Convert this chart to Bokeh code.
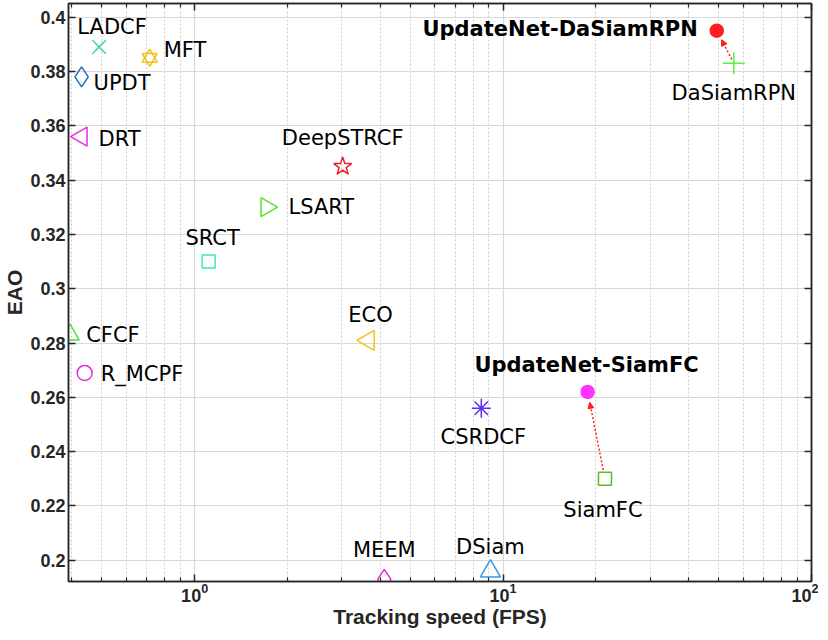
import numpy as np
from bokeh.plotting import figure
from bokeh.models import (LogAxis, LinearAxis, FixedTicker, Range1d, Arrow,
                          NormalHead, ColumnDataSource)
from bokeh.core.properties import value
from bokeh.embed import file_html
from bokeh.resources import INLINE

# ---------------- data ----------------
trackers = ["LADCF", "MFT", "UPDT", "DRT", "DeepSTRCF", "LSART", "SRCT", "ECO",
            "CFCF", "R_MCPF", "MEEM", "CSRDCF", "DSiam", "SiamFC",
            "UpdateNet-SiamFC", "DaSiamRPN", "UpdateNet-DaSiamRPN"]
fps = [0.49, 0.715, 0.43, 0.43, 3.02, 1.71, 1.11, 3.66,
       0.395, 0.44, 4.12, 8.5, 9.1, 21.4,
       18.8, 56.0, 49.3]
eao = [0.389, 0.385, 0.378, 0.356, 0.345, 0.330, 0.310, 0.281,
       0.283, 0.269, 0.193, 0.256, 0.196, 0.230,
       0.262, 0.383, 0.395]
highlight = ["UpdateNet-SiamFC", "UpdateNet-DaSiamRPN"]
arrows_from_to = [("SiamFC", "UpdateNet-SiamFC"), ("DaSiamRPN", "UpdateNet-DaSiamRPN")]

y_ticks = [0.2, 0.22, 0.24, 0.26, 0.28, 0.3, 0.32, 0.34, 0.36, 0.38, 0.4]
y_tick_labels = ["0.2", "0.22", "0.24", "0.26", "0.28", "0.3", "0.32", "0.34", "0.36", "0.38", "0.4"]
x_ticks = [1, 10, 100]

# ---------------- styles ----------------
markers = ["x", "triangle", "diamond", "triangle", "star", "triangle", "square", "triangle",
           "triangle", "circle", "diamond", "asterisk", "triangle", "square",
           "circle", "cross", "circle"]
angles = [0, 0, 0, np.pi / 2, 0, -np.pi / 2, 0, np.pi / 2,
          0, 0, 0, 0, 0, 0,
          0, 0, 0]
sizes = [19, 15, 20, 19, 19, 19, 13, 20,
         18, 15, 20, 19, 20, 13,
         13, 22, 13]
colors = ["#30D5A0", "#F2C21B", "#1F6FB8", "#E62EE6", "#F0202A", "#5CE02A", "#3DE8B8", "#F0C419",
          "#4FE03C", "#E52ED9", "#E52ED9", "#5A2EF5", "#2E9AF0", "#5FB82E",
          "#FF33FF", "#5EF03A", "#FF1F1F"]
fills = [0, 0, 0, 0, 0, 0, 0, 0, 0, 0, 0, 0, 0, 0, 1, 0, 1]
lab_dx = [13, 14, 12, 17, 0, 22, 4, 2, 16, 16, 0, 2, 0, -2, -1, 0, -19]
lab_dy = [-20, -8, 6, 2, -28, 0, -24, -25, 0, 1, -29, 29, -24, 31, -27, 30, -2]
lab_align = ["center", "left", "left", "left", "center", "left", "center", "center",
             "left", "left", "center", "center", "center", "center",
             "center", "center", "right"]
arrow_trim = [(0.1, 0.88), (0.12, 0.72)]

FONT = "DejaVu Sans"
AXFONT = "Liberation Sans"
AX = "#262626"

p = figure(width=818, height=630, x_axis_type="log",
           x_range=Range1d(0.39, 100), y_range=Range1d(0.1922, 0.405),
           output_backend="svg", toolbar_location=None,
           min_border_left=67, min_border_right=7, min_border_top=3, min_border_bottom=48)
p.background_fill_color = "white"
p.outline_line_color = AX
p.outline_line_width = 1.5

minor_x = [m * 10.0 ** e for e in (-1, 0, 1) for m in range(2, 10)]
xt = FixedTicker(ticks=x_ticks, minor_ticks=minor_x)
yt = FixedTicker(ticks=y_ticks)
overrides = {t: l for t, l in zip(y_ticks, y_tick_labels)}

xa = p.xaxis[0]
xa.ticker = xt
ya = p.yaxis[0]
ya.ticker = yt
ya.major_label_overrides = overrides
for ax in (xa, ya):
    ax.major_tick_in = 7
    ax.major_tick_out = 0
    ax.minor_tick_in = 4
    ax.minor_tick_out = 0
    ax.axis_line_color = AX
    ax.axis_line_width = 1.5
    ax.major_tick_line_color = AX
    ax.major_tick_line_width = 1.5
    ax.minor_tick_line_color = AX
    ax.minor_tick_line_width = 1.2
    ax.major_label_text_font = AXFONT
    ax.major_label_text_font_style = "bold"
    ax.major_label_text_font_size = "18px"
    ax.major_label_text_color = "#262626"
    ax.axis_label_text_font = AXFONT
    ax.axis_label_text_font_style = "bold"
    ax.axis_label_text_font_size = "21px"
    ax.axis_label_text_color = "#262626"
xa.axis_label = "Tracking speed (FPS)"
ya.axis_label = "EAO"
xa.major_label_standoff = 1
xa.axis_label_standoff = 0
ya.major_label_standoff = 3
ya.axis_label_standoff = 1
ya.minor_tick_in = 0

top = LogAxis(ticker=xt, major_tick_in=7, major_tick_out=0, minor_tick_in=4, minor_tick_out=0,
              axis_line_color=AX, axis_line_width=1.5, major_tick_line_color=AX,
              major_tick_line_width=1.5, minor_tick_line_color=AX, minor_tick_line_width=1.2,
              major_label_text_font_size="1px", major_label_text_alpha=0, major_label_standoff=0)
right = LinearAxis(ticker=yt, major_tick_in=7, major_tick_out=0, minor_tick_in=0, minor_tick_out=0,
                   axis_line_color=AX, axis_line_width=1.5, major_tick_line_color=AX,
                   major_tick_line_width=1.5, major_label_text_font_size="1px",
                   major_label_text_alpha=0, major_label_standoff=0)
p.add_layout(top, "above")
p.add_layout(right, "right")

p.xgrid.ticker = xt
p.ygrid.ticker = yt
p.xgrid.grid_line_color = "#d9d9d9"
p.ygrid.grid_line_color = "#d9d9d9"
p.xgrid.grid_line_width = 1.2
p.ygrid.grid_line_width = 1.2
p.xgrid.minor_grid_line_color = "#cfcfcf"
p.xgrid.minor_grid_line_dash = "2 2"
p.xgrid.minor_grid_line_width = 1

# arrows
idx = {n: i for i, n in enumerate(trackers)}
for (a, b), (t0, t1) in zip(arrows_from_to, arrow_trim):
    ia, ib = idx[a], idx[b]
    la, lb = np.log10(fps[ia]), np.log10(fps[ib])
    xs0, ys0 = 10 ** (la + t0 * (lb - la)), eao[ia] + t0 * (eao[ib] - eao[ia])
    xs1, ys1 = 10 ** (la + t1 * (lb - la)), eao[ia] + t1 * (eao[ib] - eao[ia])
    p.add_layout(Arrow(end=NormalHead(size=6, fill_color="#FF1F1F", line_color="#FF1F1F", line_width=1),
                       x_start=float(xs0), y_start=float(ys0), x_end=float(xs1), y_end=float(ys1),
                       line_color="#FF1F1F", line_width=1.5, line_dash="2 2"))

src = ColumnDataSource(dict(x=fps, y=eao, marker=markers, size=sizes, angle=angles,
                            color=colors, fa=fills))
p.scatter("x", "y", marker="marker", size="size", angle="angle", line_color="color",
          fill_color="color", fill_alpha="fa", line_width=1.5, source=src)
i_mft = idx["MFT"]
p.scatter([fps[i_mft]], [eao[i_mft]], marker="inverted_triangle", size=sizes[i_mft],
          line_color=colors[i_mft], fill_alpha=0, line_width=1.5)

norm = [i for i, n in enumerate(trackers) if n not in highlight]
bold = [i for i, n in enumerate(trackers) if n in highlight]
for sel, style in ((norm, "normal"), (bold, "bold")):
    s = ColumnDataSource(dict(x=[fps[i] for i in sel], y=[eao[i] for i in sel],
                              t=[trackers[i] for i in sel], dx=[lab_dx[i] for i in sel],
                              dy=[lab_dy[i] for i in sel], al=[lab_align[i] for i in sel]))
    p.text("x", "y", text="t", x_offset="dx", y_offset="dy", text_align="al",
           text_baseline="middle", text_font=value(FONT), text_font_size="21px",
           text_font_style=style, text_color="black", source=s)

open("out.html", "w").write(file_html(p, INLINE))
